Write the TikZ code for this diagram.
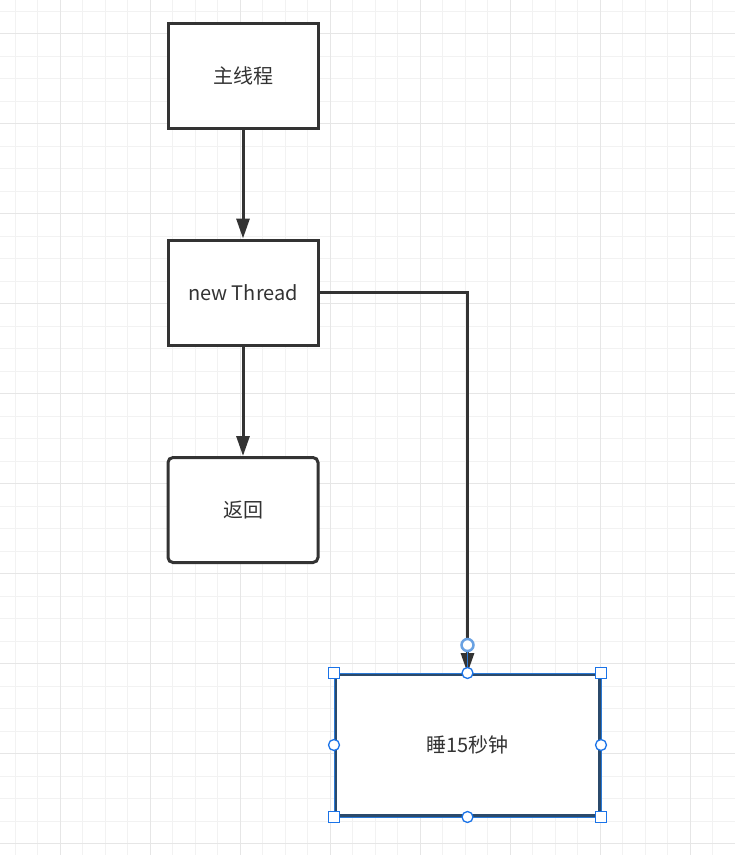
\documentclass[tikz,border=0pt]{standalone}
\usepackage{fontspec}
\setmainfont{Noto Sans CJK SC}
\usetikzlibrary{arrows.meta}
\definecolor{ink}{HTML}{333333}
\definecolor{gridminor}{HTML}{F2F2F2}
\definecolor{gridmajor}{HTML}{E6E6E6}
\definecolor{selblue}{HTML}{2979D6}
\definecolor{handleblue}{HTML}{1A73E8}
\definecolor{navy}{HTML}{2B4A6B}
\tikzset{
  box/.style={draw=ink, line width=3pt, fill=white, minimum width=150pt, minimum height=105pt,
    text=ink, font=\fontsize{20}{23}\selectfont, inner sep=0pt},
  roundbox/.style={box, rounded corners=5pt},
  sleepbox/.style={box, draw=navy, minimum width=264pt, minimum height=141pt},
  arr/.style={draw=ink, line width=3pt, -{Triangle[length=20pt,width=13pt]}},
  hsq/.style={draw=handleblue, line width=1.3pt, fill=white, minimum size=11pt, inner sep=0pt},
  hci/.style={circle, draw=handleblue, line width=1.3pt, fill=white, minimum size=11pt, inner sep=0pt},
  hend/.style={circle, draw=selblue!70, line width=2.5pt, fill=white, minimum size=12pt, inner sep=0pt}
}
\begin{document}
\begin{tikzpicture}[x=1pt,y=-1pt]
\useasboundingbox (0,0) rectangle (735,855);
\fill[white] (0,0) rectangle (735,855);
% grid
\foreach \i in {0,...,32} {
  \draw[gridminor, line width=1pt] ({15+22.5*\i},0) -- ({15+22.5*\i},855);
}
\foreach \j in {0,...,37} {
  \draw[gridminor, line width=1pt] (0,{11+22.5*\j}) -- (735,{11+22.5*\j});
}
\foreach \i in {0,...,7} {
  \draw[gridmajor, line width=1pt] ({60+90*\i},0) -- ({60+90*\i},855);
}
\foreach \j in {0,...,9} {
  \draw[gridmajor, line width=1pt] (0,{33.5+90*\j}) -- (735,{33.5+90*\j});
}
% nodes
\node[box] (main) at (243,75.5) {主线程};
\node[box] (thread) at (243,292.5) {new Thread};
\node[roundbox] (ret) at (243,510) {返回};
\node[sleepbox] (sleep) at (467.5,745) {睡15秒钟};
% connectors
\draw[arr] (main) -- (thread);
\draw[arr] (thread) -- (ret);
\draw[arr] (thread.east) -| (sleep.north);
% selection overlay
\draw[selblue, line width=1pt] (sleep.north west) rectangle (sleep.south east);
\coordinate (endp) at (467.5,645);
\draw[selblue, line width=1pt] (endp) -- (sleep.north);
\node[hend] (endhandle) at (endp) {};
\node[hsq] (h1) at (sleep.north west) {};
\node[hsq] (h2) at (sleep.north east) {};
\node[hsq] (h3) at (sleep.south west) {};
\node[hsq] (h4) at (sleep.south east) {};
\node[hci] (h5) at (sleep.north) {};
\node[hci] (h6) at (sleep.south) {};
\node[hci] (h7) at (sleep.west) {};
\node[hci] (h8) at (sleep.east) {};
\end{tikzpicture}
\end{document}
